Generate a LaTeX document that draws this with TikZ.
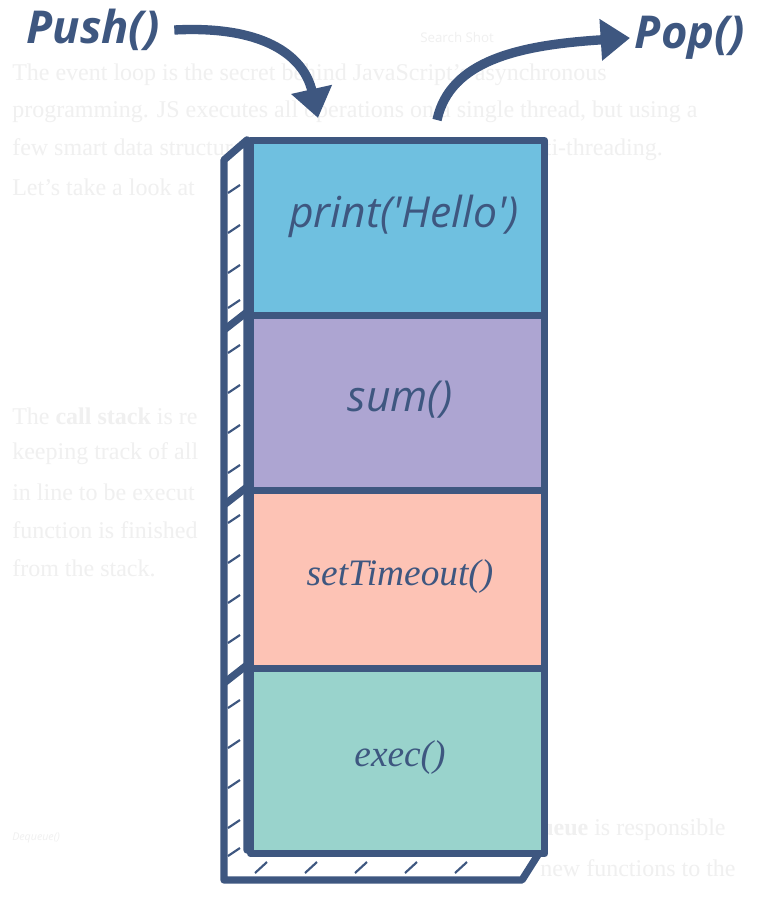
\documentclass[tikz,border=0pt]{standalone}
\usepackage{fontspec}
\setmainfont{Liberation Serif}
\newfontfamily\osans{Open Sans}
\usetikzlibrary{arrows.meta}
\definecolor{ink}{HTML}{3E5780}
\definecolor{cblue}{HTML}{6FC0E0}
\definecolor{cpurp}{HTML}{ADA5D2}
\definecolor{csalm}{HTML}{FDC3B5}
\definecolor{cteal}{HTML}{99D3CC}
\definecolor{faint}{HTML}{F0F0F0}
\tikzset{
 faintline/.style={anchor=west,text=faint,font=\fontsize{18}{20}\selectfont,inner sep=0},
 frame/.style={draw=ink,line width=5.5pt,line join=round},
 hatch/.style={draw=ink,line width=1.6pt},
 bigarrow/.style={draw=ink,line width=7pt,-{Triangle[length=22pt,width=30pt]}},
 lab/.style={text=ink,font=\osans\itshape\fontsize{32}{36}\selectfont},
 slab/.style={text=ink,font=\itshape\fontsize{28}{32}\selectfont},
 title/.style={text=ink,font=\osans\bfseries\itshape\fontsize{34}{38}\selectfont}
}
\begin{document}
\begin{tikzpicture}[x=0.75pt,y=-0.75pt]
\useasboundingbox[fill=white] (0,0) rectangle (769,898);
% faint background text
\node[faintline] (f0) at (12,75) {The event loop is the secret behind JavaScript's asynchronous};
\node[faintline] (f1) at (12,112) {programming. JS executes all operations on a single thread, but using a};
\node[faintline] (f2) at (12,150) {few smart data structures, it gives us the illusion of multi-threading.};
\node[faintline] (f3) at (12,187) {Let's take a look at};
\node[faintline] (f4) at (12,416) {The \textbf{call stack} is re};
\node[faintline] (f5) at (12,454) {keeping track of all};
\node[faintline] (f6) at (12,492) {in line to be execut};
\node[faintline] (f7) at (12,530) {function is finished};
\node[faintline] (f8) at (12,568) {from the stack.};
\node[faintline] (f9) at (540,830) {\textbf{ueue} is responsible};
\node[faintline] (f10) at (540,868) {new functions to the};
\node[faintline,font=\osans\fontsize{10}{12}\selectfont] (f11) at (420,38) {Search Shot};
\node[faintline,font=\osans\itshape\fontsize{8}{10}\selectfont] (f12) at (12,838) {Dequeue()};
% side and bottom faces
\path[frame,fill=white] (247,140) -- (224,160) -- (224,880) -- (522,880) -- (541,850) -- (247,850) -- cycle;
\foreach \y in {185,225,265,300,345,385,425,465,515,555,595,635,700,740,780,820,848}
  \draw[hatch] (228,\y+8) -- (240,\y);
\foreach \x in {255,305,355,405,455}
  \draw[hatch] (\x,873) -- (\x+12,862);
\draw[frame] (224,330) -- (247,312);
\draw[frame] (224,505) -- (247,487);
\draw[frame] (224,683) -- (247,665);
% front boxes
\node[frame,fill=cblue,minimum width=294*0.75pt,minimum height=175*0.75pt,anchor=north west] (b1) at (247,137) {};
\node[frame,fill=cpurp,minimum width=294*0.75pt,minimum height=175*0.75pt,anchor=north west] (b2) at (247,312) {};
\node[frame,fill=csalm,minimum width=294*0.75pt,minimum height=178*0.75pt,anchor=north west] (b3) at (247,487) {};
\node[frame,fill=cteal,minimum width=294*0.75pt,minimum height=185*0.75pt,anchor=north west] (b4) at (247,665) {};
\node[lab] (t1) at (404,216) {print('Hello')};
\node[lab] (t2) at (400,400) {sum()};
\node[slab] (t3) at (400,577) {setTimeout()};
\node[slab] (t4) at (400,758) {exec()};
% titles and arrows
\node[title] (push) at (93,30) {Push()};
\node[title] (pop) at (690,38) {Pop()};
\coordinate (pushend) at (318,118);
\coordinate (popstart) at (437,120);
\draw[bigarrow] (push.east) ++(10,0) .. controls (270,25) and (305,60) .. (pushend);
\draw[bigarrow] (popstart) .. controls (450,60) and (520,45) .. (pop.west);
\end{tikzpicture}
\end{document}
